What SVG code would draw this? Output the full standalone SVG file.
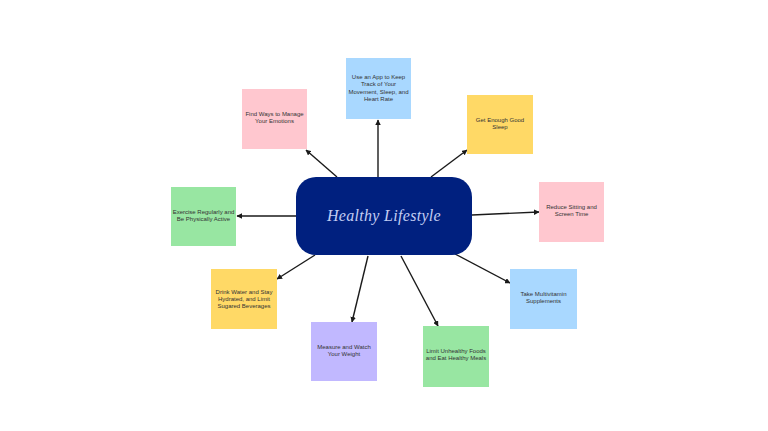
<svg xmlns="http://www.w3.org/2000/svg" width="768" height="431" viewBox="0 0 768 431">
<style>
.t{font-family:"Liberation Sans",Arial,sans-serif;font-size:6px;fill:#333;text-anchor:middle}
.c{stroke:#1a1a1a;stroke-width:1.4;fill:none;marker-end:url(#ah)}
.pink{fill:#FFC7CF}.blue{fill:#A9D8FF}.yel{fill:#FFD966}.grn{fill:#98E6A2}.pur{fill:#C1B8FF}
</style>
<defs>
<marker id="ah" viewBox="0 0 10 10" refX="9" refY="5" markerWidth="4" markerHeight="4" orient="auto" markerUnits="strokeWidth">
<path d="M0,0 L10,5 L0,10 z" fill="#1a1a1a"/>
</marker>
</defs>
<rect width="768" height="431" fill="#fff"/>
<g id="connectors">
<line class="c" x1="337" y1="177" x2="306" y2="150"/>
<line class="c" x1="378" y1="177" x2="378" y2="120"/>
<line class="c" x1="431" y1="177" x2="467" y2="150"/>
<line class="c" x1="472" y1="215" x2="539" y2="212"/>
<line class="c" x1="296" y1="216" x2="237" y2="216"/>
<line class="c" x1="315" y1="255" x2="277" y2="279"/>
<line class="c" x1="368" y1="256" x2="352" y2="322"/>
<line class="c" x1="401" y1="256" x2="438" y2="326"/>
<line class="c" x1="455" y1="254" x2="510" y2="283"/>
</g>
<g id="center">
<rect x="296" y="177" width="176" height="78" rx="20" fill="#00207F"/>
<text x="384" y="221" font-family="'Liberation Serif','DejaVu Serif',serif" font-style="italic" font-size="16" fill="#C3CDF3" text-anchor="middle" letter-spacing="0.3">Healthy  Lifestyle</text>
</g>
<g id="n1"><rect class="pink" x="242" y="89" width="65" height="60"/>
<text class="t" x="274.5" y="116">Find Ways to Manage</text><text class="t" x="274.5" y="123">Your Emotions</text></g>
<g id="n2"><rect class="blue" x="346" y="58" width="65" height="61"/>
<text class="t" x="378.5" y="79">Use an App to Keep</text><text class="t" x="378.5" y="86.3">Track of Your</text><text class="t" x="378.5" y="93.6">Movement, Sleep, and</text><text class="t" x="378.5" y="101">Heart Rate</text></g>
<g id="n3"><rect class="yel" x="467" y="95" width="66" height="59"/>
<text class="t" x="500" y="122">Get Enough Good</text><text class="t" x="500" y="129">Sleep</text></g>
<g id="n4"><rect class="pink" x="539" y="182" width="65" height="60"/>
<text class="t" x="571.5" y="209">Reduce Sitting and</text><text class="t" x="571.5" y="216">Screen Time</text></g>
<g id="n5"><rect class="grn" x="171" y="187" width="65" height="59"/>
<text class="t" x="203.5" y="214">Exercise Regularly and</text><text class="t" x="203.5" y="221">Be Physically Active</text></g>
<g id="n6"><rect class="yel" x="211" y="269" width="66" height="60"/>
<text class="t" x="244" y="294">Drink Water and Stay</text><text class="t" x="244" y="301">Hydrated, and Limit</text><text class="t" x="244" y="308">Sugared Beverages</text></g>
<g id="n7"><rect class="pur" x="311" y="322" width="66" height="59"/>
<text class="t" x="344" y="349">Measure and Watch</text><text class="t" x="344" y="356">Your Weight</text></g>
<g id="n8"><rect class="blue" x="510" y="269" width="67" height="60"/>
<text class="t" x="543.5" y="296">Take Multivitamin</text><text class="t" x="543.5" y="303">Supplements</text></g>
<g id="n9"><rect class="grn" x="423" y="326" width="66" height="61"/>
<text class="t" x="456" y="353">Limit Unhealthy Foods</text><text class="t" x="456" y="360">and Eat Healthy Meals</text></g>
</svg>
